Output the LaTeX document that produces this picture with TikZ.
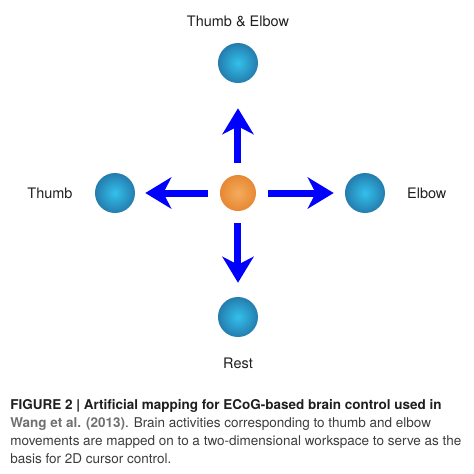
\documentclass[tikz,border=0pt]{standalone}
\usepackage{tikz}
\usetikzlibrary{arrows.meta,positioning,calc}
\usepackage{fontspec}
\setmainfont{TeX Gyre Heros}
\usepackage{xcolor}

\definecolor{ballcyan}{RGB}{52,192,236}
\definecolor{balldark}{RGB}{20,58,112}
\definecolor{orangelight}{RGB}{244,172,92}
\definecolor{orangedark}{RGB}{218,100,10}
\definecolor{captext}{RGB}{60,60,60}
\definecolor{refgray}{RGB}{112,112,112}
\pgfdeclareradialshading{blueball}{\pgfpoint{0bp}{0bp}}{color(0bp)=(ballcyan); color(50bp)=(balldark)}
\pgfdeclareradialshading{orangeball}{\pgfpoint{0bp}{0bp}}{color(0bp)=(orangelight); color(50bp)=(orangedark)}

\begin{document}
\begin{tikzpicture}[
    goalball/.style={circle, minimum size=1cm, inner sep=0pt, shading=blueball},
    homeball/.style={circle, minimum size=0.9cm, inner sep=0pt, shading=orangeball},
    move/.style={-{Stealth[length=0.65cm, width=0.78cm, inset=0.2cm]}, line width=0.175cm, blue, shorten <=0.3cm},
    lbl/.style={font=\fontsize{10.3}{12}\selectfont, text=black!88}
  ]
  \useasboundingbox (-5.95,-7.025) rectangle (5.9,4.825);

  % balls
  \node[homeball] (home) at (0,0) {};
  \node[goalball] (up) at (0,3.25) {};
  \node[goalball] (down) at (0,-3.1) {};
  \node[goalball] (left) at (-3.075,0) {};
  \node[goalball] (right) at (3.175,0) {};

  % labels
  \node[lbl] (uplbl) at (0,4.28) {Thumb \& Elbow};
  \node[lbl] (downlbl) at (0,-4.25) {Rest};
  \node[lbl] (leftlbl) at (-4.7,0) {Thumb};
  \node[lbl] (rightlbl) at (4.72,0) {Elbow};

  % arrows
  \draw[move, shorten >=0.625cm] (home) -- (up);
  \draw[move, shorten >=0.35cm] (home) -- (down);
  \draw[move, shorten >=0.25cm] (home) -- (left);
  \draw[move, shorten >=0.275cm] (home) -- (right);

  % caption (base = last line)
  \node[anchor=base west, align=left, inner sep=0pt, font=\fontsize{9.6}{12.9}\selectfont, text=captext] (caption) at (-5.7,-6.77)
    {\textbf{\color{black!88}FIGURE 2 | Artificial mapping for ECoG-based brain control used in}\\
     \textbf{\color{refgray}Wang et al. (2013)}. Brain activities corresponding to thumb and elbow\\
     movements are mapped on to a two-dimensional workspace to serve as the\\
     basis for 2D cursor control.};
\end{tikzpicture}
\end{document}
